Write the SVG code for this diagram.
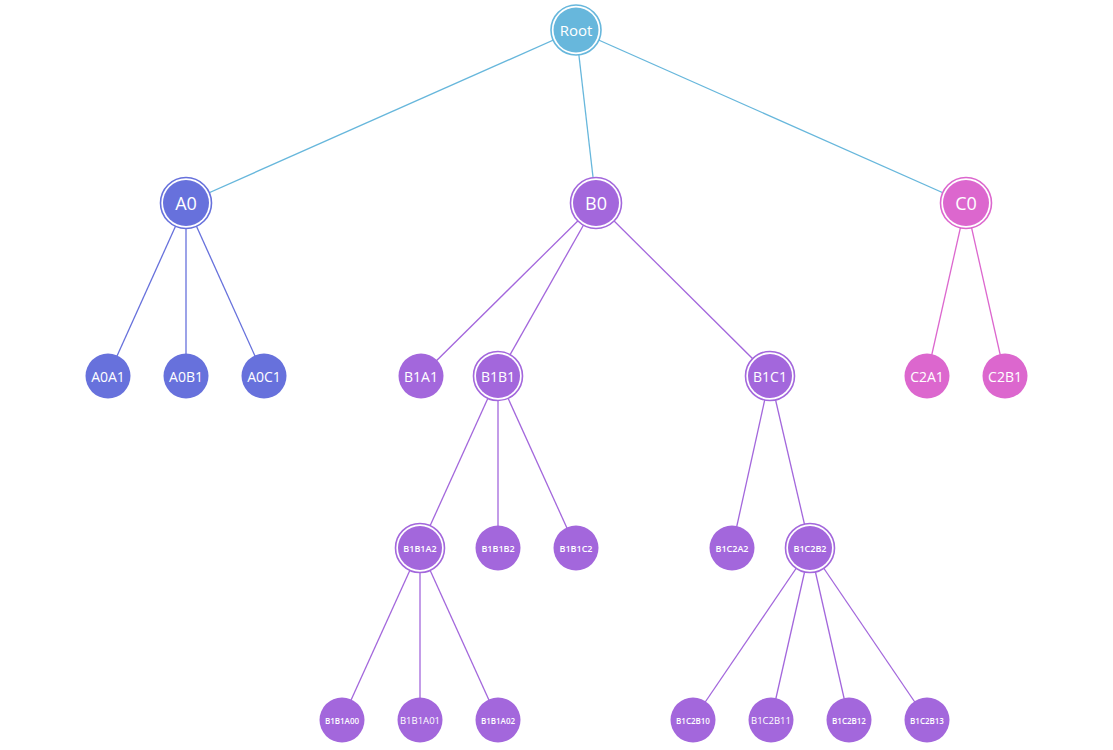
<svg xmlns="http://www.w3.org/2000/svg" width="1113" height="750" viewBox="0 0 1113 750">
<style>
.e{stroke-width:1.3;fill:none}
.eR{stroke:#67b7dc}.eA{stroke:#6771dc}.eB{stroke:#a367dc}.eC{stroke:#dc67ce}
.ring{fill:#ffffff;stroke-width:1.6}
.fR{fill:#67b7dc}.fA{fill:#6771dc}.fB{fill:#a367dc}.fC{fill:#dc67ce}
.sR{stroke:#67b7dc}.sA{stroke:#6771dc}.sB{stroke:#a367dc}.sC{stroke:#dc67ce}
text{fill:#ffffff;font-family:"Open Sans","Noto Sans","DejaVu Sans",sans-serif;text-anchor:middle;dominant-baseline:central}
.t1{font-size:18px}.t0{font-size:15px}.t2{font-size:14px}.t3{font-size:9px;font-weight:600}.t4{font-size:8px;font-weight:600}.t4b{font-size:9.5px}
</style>
<g id="connectors">
<line class="e eR" x1="576" y1="30" x2="186" y2="203"/>
<line class="e eR" x1="576" y1="30" x2="596" y2="203"/>
<line class="e eR" x1="576" y1="30" x2="966" y2="203"/>
<line class="e eA" x1="186" y1="203" x2="108" y2="376"/>
<line class="e eA" x1="186" y1="203" x2="186" y2="376"/>
<line class="e eA" x1="186" y1="203" x2="264" y2="376"/>
<line class="e eB" x1="596" y1="203" x2="421" y2="376"/>
<line class="e eB" x1="596" y1="203" x2="498" y2="376"/>
<line class="e eB" x1="596" y1="203" x2="770" y2="376"/>
<line class="e eC" x1="966" y1="203" x2="927" y2="376"/>
<line class="e eC" x1="966" y1="203" x2="1005" y2="376"/>
<line class="e eB" x1="498" y1="376" x2="420" y2="548"/>
<line class="e eB" x1="498" y1="376" x2="498" y2="548"/>
<line class="e eB" x1="498" y1="376" x2="576" y2="548"/>
<line class="e eB" x1="770" y1="376" x2="732" y2="548"/>
<line class="e eB" x1="770" y1="376" x2="810" y2="548"/>
<line class="e eB" x1="420" y1="548" x2="342" y2="720"/>
<line class="e eB" x1="420" y1="548" x2="420" y2="720"/>
<line class="e eB" x1="420" y1="548" x2="498" y2="720"/>
<line class="e eB" x1="810" y1="548" x2="693" y2="720"/>
<line class="e eB" x1="810" y1="548" x2="771" y2="720"/>
<line class="e eB" x1="810" y1="548" x2="849" y2="720"/>
<line class="e eB" x1="810" y1="548" x2="927" y2="720"/>
</g>
<g id="Root"><circle class="ring sR" cx="576" cy="30" r="25"/><circle class="fR" cx="576" cy="30" r="22.5"/><text class="t0" x="576" y="30">Root</text></g>
<g id="A0"><circle class="ring sA" cx="186" cy="203" r="25.5"/><circle class="fA" cx="186" cy="203" r="23"/><text class="t1" x="186" y="203">A0</text></g>
<g id="B0"><circle class="ring sB" cx="596" cy="203" r="25.5"/><circle class="fB" cx="596" cy="203" r="23"/><text class="t1" x="596" y="203">B0</text></g>
<g id="C0"><circle class="ring sC" cx="966" cy="203" r="25.5"/><circle class="fC" cx="966" cy="203" r="23"/><text class="t1" x="966" y="203">C0</text></g>
<g id="A0A1"><circle class="fA" cx="108" cy="376" r="22.5"/><text class="t2" x="108" y="376">A0A1</text></g>
<g id="A0B1"><circle class="fA" cx="186" cy="376" r="22.5"/><text class="t2" x="186" y="376">A0B1</text></g>
<g id="A0C1"><circle class="fA" cx="264" cy="376" r="22.5"/><text class="t2" x="264" y="376">A0C1</text></g>
<g id="B1A1"><circle class="fB" cx="421" cy="376" r="22.5"/><text class="t2" x="421" y="376">B1A1</text></g>
<g id="B1B1"><circle class="ring sB" cx="498" cy="376" r="24.5"/><circle class="fB" cx="498" cy="376" r="22"/><text class="t2" x="498" y="376">B1B1</text></g>
<g id="B1C1"><circle class="ring sB" cx="770" cy="376" r="24.5"/><circle class="fB" cx="770" cy="376" r="22"/><text class="t2" x="770" y="376">B1C1</text></g>
<g id="C2A1"><circle class="fC" cx="927" cy="376" r="22.5"/><text class="t2" x="927" y="376">C2A1</text></g>
<g id="C2B1"><circle class="fC" cx="1005" cy="376" r="22.5"/><text class="t2" x="1005" y="376">C2B1</text></g>
<g id="B1B1A2"><circle class="ring sB" cx="420" cy="548" r="24.5"/><circle class="fB" cx="420" cy="548" r="22"/><text class="t3" x="420" y="548">B1B1A2</text></g>
<g id="B1B1B2"><circle class="fB" cx="498" cy="548" r="22.5"/><text class="t3" x="498" y="548">B1B1B2</text></g>
<g id="B1B1C2"><circle class="fB" cx="576" cy="548" r="22.5"/><text class="t3" x="576" y="548">B1B1C2</text></g>
<g id="B1C2A2"><circle class="fB" cx="732" cy="548" r="22.5"/><text class="t3" x="732" y="548">B1C2A2</text></g>
<g id="B1C2B2"><circle class="ring sB" cx="810" cy="548" r="24.5"/><circle class="fB" cx="810" cy="548" r="22"/><text class="t3" x="810" y="548">B1C2B2</text></g>
<g id="B1B1A00"><circle class="fB" cx="342" cy="720" r="22.5"/><text class="t4" x="342" y="720">B1B1A00</text></g>
<g id="B1B1A01"><circle class="fB" cx="420" cy="720" r="22.5"/><text class="t4b" x="420" y="720">B1B1A01</text></g>
<g id="B1B1A02"><circle class="fB" cx="498" cy="720" r="22.5"/><text class="t4" x="498" y="720">B1B1A02</text></g>
<g id="B1C2B10"><circle class="fB" cx="693" cy="720" r="22.5"/><text class="t4" x="693" y="720">B1C2B10</text></g>
<g id="B1C2B11"><circle class="fB" cx="771" cy="720" r="22.5"/><text class="t4b" x="771" y="720">B1C2B11</text></g>
<g id="B1C2B12"><circle class="fB" cx="849" cy="720" r="22.5"/><text class="t4" x="849" y="720">B1C2B12</text></g>
<g id="B1C2B13"><circle class="fB" cx="927" cy="720" r="22.5"/><text class="t4" x="927" y="720">B1C2B13</text></g>
</svg>
